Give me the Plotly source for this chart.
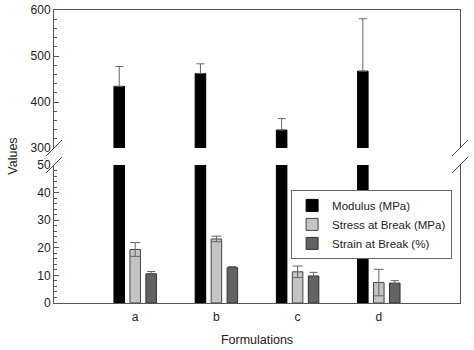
import plotly.graph_objects as go

categories = ["a", "b", "c", "d"]
modulus = [434, 462, 339, 467]
modulus_err = [43, 21, 25, 114]
stress = [19.4, 23.2, 11.3, 7.4]
stress_err = [2.5, 1.0, 2.1, 4.8]
strain = [10.6, 12.8, 9.8, 7.2]
strain_err = [0.8, 0.4, 1.3, 0.9]

lower_ticks = [0, 10, 20, 30, 40, 50]
upper_ticks = [300, 400, 500, 600]

FONT = "Liberation Sans, Arial, sans-serif"
AX = "#555555"
ERR = "#666666"

series = [
    ("Modulus (MPa)", modulus, modulus_err, "#000000", "#000000", 4, True),
    ("Stress at Break (MPa)", stress, stress_err, "#c4c4c4", "#444444", 5, False),
    ("Strain at Break (%)", strain, strain_err, "#636363", "#333333", 4, False),
]

fig = go.Figure()
for panel, (xa, ya) in enumerate([("x", "y"), ("x2", "y2")]):
    for name, vals, err, fill, line, capw, plus_only in series:
        if plus_only:
            ey = dict(type="data", array=err, arrayminus=[0] * len(err),
                      symmetric=False, color=ERR, thickness=1, width=capw)
        else:
            ey = dict(type="data", array=err, color=ERR, thickness=1, width=capw)
        fig.add_trace(go.Bar(
            x=categories, y=vals, name=name, xaxis=xa, yaxis=ya,
            marker=dict(color=fill, line=dict(color=line, width=1)),
            error_y=ey, showlegend=(panel == 0), legendgroup=name,
        ))

low_dom = [0, 0.471]
up_dom = [0.529, 1]

fig.update_layout(
    width=474, height=350,
    margin=dict(l=54, r=14, t=10, b=47),
    plot_bgcolor="white", paper_bgcolor="white",
    barmode="group", bargap=0.41, bargroupgap=0.34,
    font=dict(family=FONT, size=12, color="#222222"),
    xaxis=dict(domain=[0, 1], anchor="y", range=[-1, 4], showline=True,
               linecolor=AX, linewidth=1, ticks="", showgrid=False,
               ticklabelstandoff=3, automargin=False,
               title=dict(text="Formulations", font=dict(size=12.5), standoff=11),
               tickfont=dict(size=12)),
    xaxis2=dict(domain=[0, 1], anchor="y2", matches="x", side="top",
                showline=True, linecolor=AX, linewidth=1, ticks="",
                showticklabels=False, showgrid=False),
    yaxis=dict(domain=low_dom, anchor="x", range=[0, 50], tickvals=lower_ticks,
               showline=True, mirror=True, linecolor=AX, linewidth=1,
               ticks="inside", ticklen=5, tickcolor=AX, showgrid=False,
               zeroline=False, automargin=False,
               minor=dict(dtick=2, ticks="inside", ticklen=3, tickcolor=AX),
               tickfont=dict(size=12)),
    yaxis2=dict(domain=up_dom, anchor="x2", range=[300, 600], tickvals=upper_ticks,
                showline=True, mirror=True, linecolor=AX, linewidth=1,
                ticks="inside", ticklen=5, tickcolor=AX, showgrid=False,
                zeroline=False, automargin=False,
                minor=dict(tick0=300, dtick=20, ticks="inside", ticklen=3, tickcolor=AX),
                tickfont=dict(size=12)),
    legend=dict(x=0.584, y=0.386, xanchor="left", yanchor="top",
                bgcolor="white", bordercolor="#666666", borderwidth=1,
                font=dict(size=11.5, color="#222222"), tracegroupgap=0),
)

# y-axis title spanning both panels
fig.add_annotation(text="Values", xref="paper", yref="paper", x=-0.103, y=0.5,
                   textangle=-90, showarrow=False, font=dict(size=12.5),
                   xanchor="center", yanchor="middle")

# axis break marks
dx, dy = 0.0197, 0.0273
for xc in (0, 1):
    for yc in (up_dom[0], low_dom[1]):
        fig.add_shape(type="line", xref="paper", yref="paper",
                      x0=xc - dx, y0=yc - dy, x1=xc + dx, y1=yc + dy,
                      line=dict(color="#444444", width=1))

fig.write_html("out.html")
